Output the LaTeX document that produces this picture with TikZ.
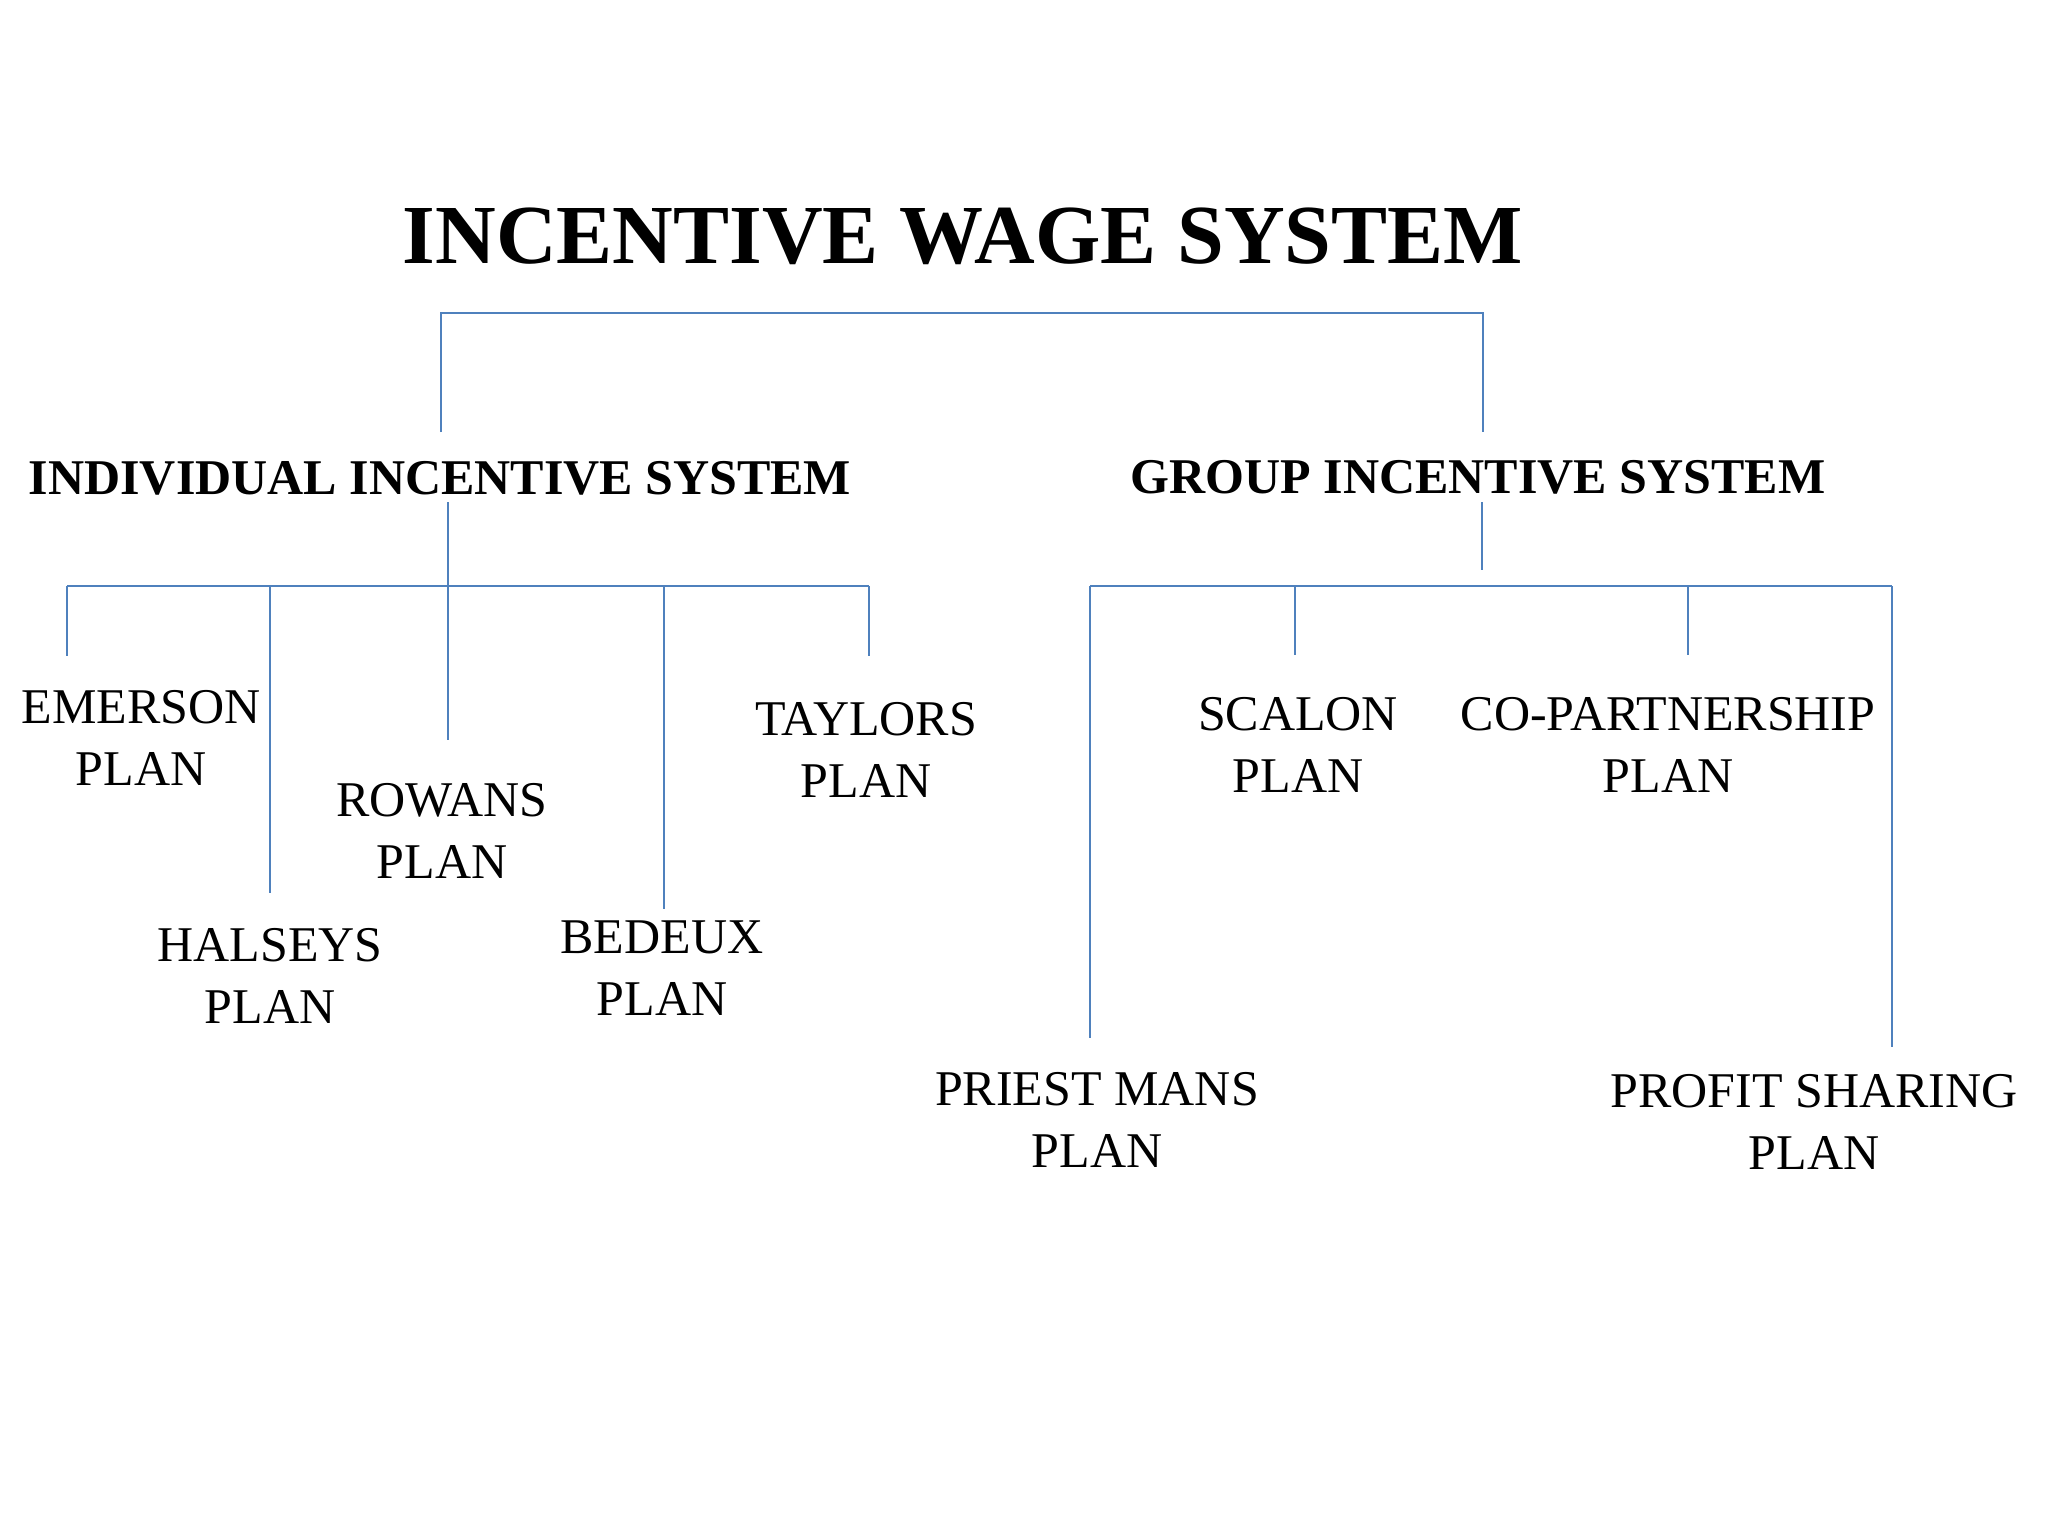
\documentclass[tikz,border=0pt]{standalone}
\usepackage{fontspec}
\setmainfont{Liberation Serif}
\definecolor{linkblue}{HTML}{4F81BD}
\begin{document}
\begin{tikzpicture}[x=1pt,y=-1pt,
  lbl/.style={inner sep=0pt, outer sep=0pt, align=center, anchor=base, font=\fontsize{50}{62}\selectfont},
  head/.style={inner sep=0pt, outer sep=0pt, anchor=base, font=\bfseries\fontsize{50}{62}\selectfont},
  ttl/.style={inner sep=0pt, outer sep=0pt, anchor=base, font=\bfseries\fontsize{84}{100}\selectfont},
  link/.style={draw=linkblue, line width=2pt}]
\useasboundingbox[fill=white] (0,0) rectangle (2048,1536);
% title and headings
\node[ttl] (title) at (963,263) {INCENTIVE WAGE SYSTEM};
\node[head] (indiv) at (440,494) {INDIVIDUAL INCENTIVE SYSTEM};
\node[head] (group) at (1478,493) {GROUP INCENTIVE SYSTEM};
% plans (anchor=base = baseline of last line)
\node[lbl] (emerson) at (141,785) {EMERSON\\PLAN};
\node[lbl] (rowans) at (442,878) {ROWANS\\PLAN};
\node[lbl] (halseys) at (270,1023) {HALSEYS\\PLAN};
\node[lbl] (bedeux) at (662,1015) {BEDEUX\\PLAN};
\node[lbl] (taylors) at (866,797) {TAYLORS\\PLAN};
\node[lbl] (scalon) at (1298,792) {SCALON\\PLAN};
\node[lbl] (copart) at (1668,792) {CO-PARTNERSHIP\\PLAN};
\node[lbl] (priest) at (1097,1167) {PRIEST MANS\\PLAN};
\node[lbl] (profit) at (1814,1169) {PROFIT SHARING\\PLAN};
% junction coordinates
\coordinate (tl) at (441,313);
\coordinate (tr) at (1483,313);
\coordinate (indivtop) at (441,432);
\coordinate (grouptop) at (1483,432);
\coordinate (ibus) at (448,586);
\coordinate (ibusL) at (67,586);
\coordinate (ibusR) at (869,586);
\coordinate (gbus) at (1482,586);
\coordinate (gbusL) at (1090,586);
\coordinate (gbusR) at (1892,586);
\coordinate (iv) at (448,502);
\coordinate (gv) at (1482,502);
\coordinate (emE) at (67,656);
\coordinate (haE) at (270,893);
\coordinate (roE) at (448,740);
\coordinate (beE) at (664,909);
\coordinate (taE) at (869,656);
\coordinate (prE) at (1090,1038);
\coordinate (scE) at (1295,655);
\coordinate (coE) at (1688,655);
\coordinate (pfE) at (1892,1047);
% top bracket
\draw[link] (indivtop) -- (tl) -- (tr) -- (grouptop);
% individual branch
\draw[link] (iv) -- (roE);
\draw[link] (ibusL) -- (ibusR);
\draw[link] (ibusL) -- (emE);
\draw[link] (270,586) -- (haE);
\draw[link] (664,586) -- (beE);
\draw[link] (ibusR) -- (taE);
% group branch
\draw[link] (gv) -- (1482,570);
\draw[link] (gbusL) -- (gbusR);
\draw[link] (gbusL) -- (prE);
\draw[link] (1295,586) -- (scE);
\draw[link] (1688,586) -- (coE);
\draw[link] (gbusR) -- (pfE);
\end{tikzpicture}
\end{document}
